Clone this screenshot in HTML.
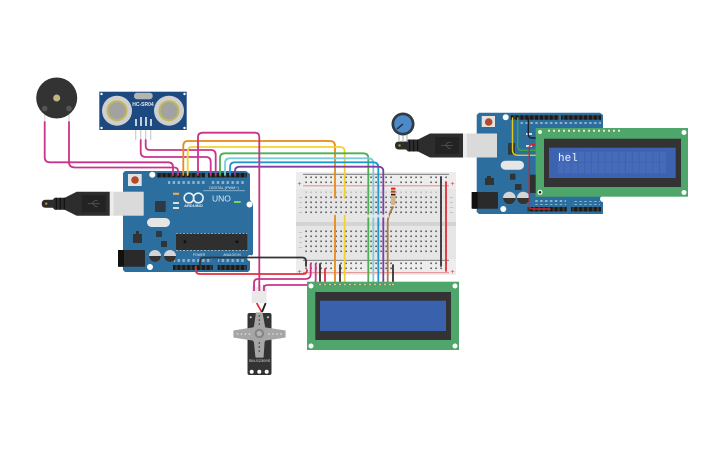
<!DOCTYPE html>
<html><head><meta charset="utf-8"><style>
html,body{margin:0;padding:0;background:#fff}
svg{display:block}
text{font-family:"Liberation Sans",sans-serif}
.w{fill:none;stroke-width:1.8;stroke-linejoin:round;stroke-linecap:round}
.t{fill:none;stroke-width:1.4;stroke-linejoin:round;stroke-linecap:round}
</style></head><body>
<svg width="725" height="453" viewBox="0 0 725 453" xmlns="http://www.w3.org/2000/svg">
<defs>
<pattern id="h" x="305" y="0" width="5" height="5" patternUnits="userSpaceOnUse"><rect x=".3" y="1.500" width="1.600" height="1.600" fill="#5a5a5a"/></pattern>
<pattern id="hl" x="305" y="-1" width="5" height="5" patternUnits="userSpaceOnUse"><rect x=".3" y="1.500" width="1.600" height="1.600" fill="#5a5a5a"/></pattern>
<pattern id="hr" x="305" y="1" width="5" height="5" patternUnits="userSpaceOnUse"><rect x=".3" y="1.500" width="1.600" height="1.600" fill="#5a5a5a"/></pattern>
<pattern id="hf" x="305" y="0" width="5" height="5" patternUnits="userSpaceOnUse"><rect x=".3" y="1.500" width="1.600" height="1.600" fill="#bdbdbd"/></pattern>
<pattern id="ph" x="0" y="0" width="4.900" height="5" patternUnits="userSpaceOnUse"><rect x="1" y="0" width="2.900" height="5" fill="#1b1b1b"/></pattern>
<pattern id="tick" x="0" y="0" width="4.900" height="6" patternUnits="userSpaceOnUse"><rect x="1.200" y="0" width="2.400" height="4" fill="#b9cfe0"/></pattern>
<pattern id="cell" x="558" y="151.700" width="6.800" height="11.200" patternUnits="userSpaceOnUse"><rect width="5.800" height="10.500" fill="#4b71bf"/></pattern>
<g id="usb">
<rect x="68" y="-12" width="34" height="24" fill="#dadada"/>
<rect x="68" y="-12" width="4" height="24" fill="#ececec"/>
<path d="M0 0Q0-4 4-4H11L13-6H23L35-12H68V12H35L23 6H13L11 4H4Q0 4 0 0Z" fill="#2d2d2d"/>
<rect x="14" y="-6" width="1.200" height="12" fill="#111"/><rect x="18" y="-6" width="1.200" height="12" fill="#111"/><rect x="22" y="-6" width="1.200" height="12" fill="#111"/>
<rect x="40" y="-8.500" width="24" height="17" fill="#232323"/>
<circle cx="4.500" cy="0" r="1.200" fill="#b8951f"/>
<path d="M46 0H58M50 0L53-3H56M51 0L54 3H56" stroke="#555" stroke-width=".8" fill="none"/>
</g>
</defs>

<!-- Breadboard -->
<rect x="296" y="172" width="160" height="103" fill="#e6e6e6"/>
<rect x="296" y="172" width="160" height="17" fill="#ededed"/>
<rect x="296" y="259" width="160" height="16" fill="#ededed"/>
<rect x="296" y="222" width="160" height="4" fill="#d4d4d4"/>
<rect x="303" y="173.800" width="146" height="1" fill="#7a7a7a"/>
<rect x="303" y="185.200" width="146" height="1.200" fill="#e59a9a"/>
<rect x="303" y="259.800" width="146" height="1" fill="#7a7a7a"/>
<rect x="303" y="272" width="146" height="1.200" fill="#e59a9a"/>
<rect x="304" y="176" width="144" height="10" fill="url(#h)"/>
<rect x="304" y="190" width="144" height="5" fill="url(#hf)"/>
<rect x="304" y="195" width="144" height="20" fill="url(#h)"/>
<rect x="304" y="229" width="144" height="25" fill="url(#hl)"/>
<rect x="304" y="254" width="144" height="3" fill="#e6e6e6"/>
<rect x="304" y="262" width="144" height="10" fill="url(#hr)"/>
<g fill="#ededed">
<rect x="334" y="176" width="3.500" height="9"/><rect x="364" y="176" width="3.500" height="9"/><rect x="394" y="176" width="3.500" height="9"/><rect x="424" y="176" width="3.500" height="9"/>
<rect x="334" y="262" width="3.500" height="9"/><rect x="364" y="262" width="3.500" height="9"/><rect x="394" y="262" width="3.500" height="9"/><rect x="424" y="262" width="3.500" height="9"/>
</g>
<g fill="#bbb"><rect x="299" y="197" width="3" height=".8"/><rect x="299" y="202" width="3" height=".8"/><rect x="299" y="207" width="3" height=".8"/><rect x="299" y="212" width="3" height=".8"/><rect x="450" y="197" width="3" height=".8"/><rect x="450" y="202" width="3" height=".8"/><rect x="450" y="207" width="3" height=".8"/><rect x="450" y="212" width="3" height=".8"/><rect x="299" y="232" width="3" height=".8"/><rect x="299" y="237" width="3" height=".8"/><rect x="299" y="242" width="3" height=".8"/><rect x="299" y="247" width="3" height=".8"/></g>
<text x="297.500" y="186" font-size="7" fill="#d33">+</text><text x="450.500" y="186" font-size="7" fill="#d33">+</text>
<text x="297.500" y="274" font-size="7" fill="#d33">+</text><text x="450.500" y="274" font-size="7" fill="#d33">+</text>

<!-- Resistor -->
<rect x="391" y="187" width="4.500" height="18" rx="1.500" fill="#d4b483"/>
<rect x="391" y="188" width="4.500" height="1.500" fill="#d22"/><rect x="391" y="191" width="4.500" height="1.500" fill="#d22"/><rect x="391" y="194" width="4.500" height="1.300" fill="#222"/>

<!-- Buzzer -->
<path d="M44.700 114V123M69 114V123" stroke="#ddd" stroke-width="1.600"/>
<circle cx="56.700" cy="98" r="20.500" fill="#333"/>
<circle cx="56.700" cy="98" r="3.500" fill="#c4b684"/>
<circle cx="44.700" cy="108.500" r="2.800" fill="#555"/><circle cx="69" cy="108.500" r="2.800" fill="#555"/>

<!-- Ultrasonic -->
<path d="M135.700 130V140M140.700 130V140M145.700 130V140M150.700 130V140" stroke="#ccc" stroke-width="1.200"/>
<rect x="99.300" y="91.700" width="87.400" height="38.300" fill="#1c4a80"/>
<rect x="134" y="92.700" width="18.700" height="6.600" rx="3" fill="#b4b4b4"/>
<circle cx="117" cy="110.700" r="15" fill="#cfcfcf"/><circle cx="117" cy="110.700" r="10.500" fill="#bdb95a"/><circle cx="117" cy="110.700" r="8.500" fill="#a2a2a2"/>
<circle cx="169" cy="110.700" r="15" fill="#cfcfcf"/><circle cx="169" cy="110.700" r="10.500" fill="#bdb95a"/><circle cx="169" cy="110.700" r="8.500" fill="#a2a2a2"/>
<text x="143" y="106" font-size="5" font-weight="bold" fill="#dfe6ef" text-anchor="middle">HC-SR04</text>
<path d="M135 119h2v7h-2zM140 117h2v9h-2zM145 117h2v9h-2zM150 119h2v7h-2z" fill="#c4cfdc"/>
<circle cx="101.500" cy="94" r="1.200" fill="#fff"/><circle cx="184.500" cy="94" r="1.200" fill="#fff"/><circle cx="101.500" cy="128" r="1.200" fill="#fff"/><circle cx="184.500" cy="128" r="1.200" fill="#fff"/>

<!-- Left Arduino -->
<path d="M125 171H246L250 174V200L253 204V254L250 258V270L248 272H125L123 270V173Z" fill="#2c6f9f"/>
<rect x="128" y="174" width="13.700" height="12" fill="#e2e2e2"/><circle cx="135" cy="180" r="3.800" fill="#b5492b"/>
<rect x="156.700" y="173" width="48.300" height="4.500" fill="#3a3a3a"/><rect x="156.700" y="173" width="48.300" height="4.500" fill="url(#ph)"/>
<rect x="208" y="173" width="38.700" height="4.500" fill="#3a3a3a"/><rect x="208" y="173" width="38.700" height="4.500" fill="url(#ph)"/>
<rect x="173" y="265" width="39.700" height="5" fill="#3a3a3a"/><rect x="173" y="265" width="39.700" height="5" fill="url(#ph)"/>
<rect x="217.700" y="265" width="29" height="5" fill="#3a3a3a"/><rect x="217.700" y="265" width="29" height="5" fill="url(#ph)"/>
<rect x="168" y="181" width="37" height="4" fill="url(#tick)" opacity=".7"/><rect x="211" y="181" width="35" height="4" fill="url(#tick)" opacity=".7"/>
<rect x="174" y="259" width="38" height="4" fill="url(#tick)" opacity=".7"/><rect x="218" y="259" width="28" height="4" fill="url(#tick)" opacity=".7"/>
<rect x="203" y="190.400" width="42" height=".7" fill="#a9c6dc"/>
<circle cx="152.300" cy="174.700" r="3" fill="#fff"/><circle cx="249.500" cy="204.500" r="3" fill="#fff"/><circle cx="250" cy="258" r="3" fill="#fff"/><circle cx="150" cy="267" r="3" fill="#fff"/>
<rect x="155" y="201" width="10.700" height="11" fill="#2d3a45"/>
<rect x="156" y="231" width="6" height="6" fill="#2d3a45"/>
<rect x="133" y="234" width="9" height="9" fill="#333"/><rect x="136" y="231" width="3" height="3" fill="#333"/>
<rect x="161" y="241" width="6" height="6" fill="#333"/>
<rect x="147" y="218" width="23" height="9" rx="4.500" fill="#e6e6e6"/>
<rect x="176" y="233.300" width="71.300" height="17" fill="#2f2f2f"/>
<path d="M176 233.300h71.300M176 250.300h71.300" stroke="#ddd" stroke-width=".7" stroke-dasharray="2 1.500"/>
<circle cx="185" cy="241.800" r="1.500" fill="#111"/><circle cx="237" cy="241.800" r="1.500" fill="#111"/>
<rect x="118" y="250" width="27" height="16.700" rx="1" fill="#2a2a2a"/><rect x="118" y="250" width="6" height="16.700" fill="#111"/>
<circle cx="155" cy="256" r="6" fill="#d4d4d4"/><path d="M149 256A6 6 0 0 0 161 256Z" fill="#333"/>
<circle cx="170" cy="256" r="6" fill="#d4d4d4"/><path d="M164 256A6 6 0 0 0 176 256Z" fill="#333"/>
<circle cx="189" cy="198" r="4.800" fill="none" stroke="#e8f0f6" stroke-width="1.600"/><circle cx="198.300" cy="198" r="4.800" fill="none" stroke="#e8f0f6" stroke-width="1.600"/>
<text x="193.500" y="207" font-size="4" font-weight="bold" fill="#e4edf5" text-anchor="middle">ARDUINO</text>
<text x="212" y="201.500" font-size="8.500" fill="#dfe9f2">UNO</text>
<text x="224" y="189" font-size="3.800" fill="#dfe9f2" text-anchor="middle">DIGITAL (PWM~)</text>
<text x="199" y="256" font-size="3.200" fill="#dfe9f2" text-anchor="middle">POWER</text>
<text x="232" y="256" font-size="3.200" fill="#dfe9f2" text-anchor="middle">ANALOG IN</text>
<rect x="234" y="201" width="6.700" height="2" fill="#7fd06a"/>
<rect x="173" y="192.700" width="6" height="2.200" fill="#e0aa60"/>
<rect x="173" y="202" width="6" height="2" fill="#ddd"/><rect x="173" y="207" width="6" height="2" fill="#ddd"/>

<use href="#usb" x="41.700" y="203.700"/>

<!-- Left wires -->
<g class="w">
<path d="M44.700 122V157Q44.700 162.300 50 162.300H168Q173 162.300 173 167V175" stroke="#c9348a"/>
<path d="M69 122V162Q69 167.500 75 167.500H174Q178 167.500 178 171V175" stroke="#c9348a"/>
<path d="M140.700 140V152Q140.700 157 146 157H206Q210.700 157 210.700 162V175" stroke="#c9348a"/>
<path d="M145.700 140V146Q145.700 150 150 150H211Q215.700 150 215.700 155V175" stroke="#c9348a"/>
<path d="M183.300 175V146Q183.300 141 188 141H330Q335 141 335 146V197.700M335 215.700V285" stroke="#e88a1a"/>
<path d="M187.700 175V152Q187.700 147 192 147H340Q344.700 147 344.700 152V197.700M344.700 215.700V285" stroke="#f2d32e"/>
<path d="M220 175V158Q220 153.300 225 153.300H363Q368.300 153.300 368.300 158V285" stroke="#4cb050"/>
<path d="M225 175V163Q225 158.300 230 158.300H368Q373.300 158.300 373.300 163V285" stroke="#7fcbd9"/>
<path d="M230 175V167Q230 162.300 235 162.300H373Q378.300 162.300 378.300 167V285" stroke="#1f9ad0"/>
<path d="M235 175V171Q235 166.700 240 166.700H378Q383.300 166.700 383.300 171V285" stroke="#7c3fa0"/>
<path d="M198 175V137Q198 132.700 203 132.700H255Q259.300 132.700 259.300 137V287" stroke="#c9348a"/>
<path d="M200 266V261Q200 257.500 204 257.500H302Q306 257.500 306 261V266" stroke="#333"/>
<path d="M195.700 267V270Q195.700 274 200 274H303Q307 274 307 270" stroke="#e0303a"/>
<path d="M310.700 264V274Q310.700 279 305 279H258Q254 279 254 283V288" stroke="#c9348a"/>
<path d="M315.700 264V280Q315.700 285 310 285H268Q264 285 264 288" stroke="#c9348a"/>
<path d="M320 264V285" stroke="#333"/>
<path d="M325 269V285" stroke="#e0303a"/>
<path d="M340 265V285" stroke="#333"/>
<path d="M387.700 285V222Q387.700 216 393 207" stroke="#a87a4a"/>
<path d="M393 265V285" stroke="#333"/>
<path d="M441 177V266" stroke="#333"/>
<path d="M446 182V271" stroke="#e0303a"/>
</g>
<rect x="365" y="214.500" width="24" height="3" fill="#e8e8e8" opacity=".85"/>

<!-- Bottom LCD -->
<rect x="307" y="281.700" width="152" height="68.300" fill="#4fa66b"/>
<rect x="315.300" y="292" width="135.700" height="48" fill="#333"/>
<rect x="320" y="300.700" width="126" height="30.300" fill="#3a62ac"/>
<circle cx="311" cy="286" r="2.500" fill="#fff"/><circle cx="455" cy="286" r="2.500" fill="#fff"/><circle cx="311" cy="346" r="2.500" fill="#fff"/><circle cx="455" cy="346" r="2.500" fill="#fff"/>
<g fill="#e6dca0" stroke="#555" stroke-width=".4">
<circle cx="320" cy="284.500" r="1.200"/><circle cx="325" cy="284.500" r="1.200"/><circle cx="330" cy="284.500" r="1.200"/><circle cx="335" cy="284.500" r="1.200"/><circle cx="340" cy="284.500" r="1.200"/><circle cx="345" cy="284.500" r="1.200"/><circle cx="350" cy="284.500" r="1.200"/><circle cx="355" cy="284.500" r="1.200"/><circle cx="360" cy="284.500" r="1.200"/><circle cx="365" cy="284.500" r="1.200"/><circle cx="370" cy="284.500" r="1.200"/><circle cx="375" cy="284.500" r="1.200"/><circle cx="380" cy="284.500" r="1.200"/><circle cx="385" cy="284.500" r="1.200"/><circle cx="390" cy="284.500" r="1.200"/><circle cx="393" cy="284.500" r="1.200"/>
</g>

<!-- Servo -->
<rect x="247.500" y="313" width="24" height="62" rx="2" fill="#333"/>
<path d="M256.700 303L261.700 312" stroke="#e0303a" stroke-width="1.800"/>
<path d="M265.700 303L262 312" stroke="#222" stroke-width="1.800"/>
<rect x="251.700" y="287" width="15" height="16" fill="#e9e9e9"/>
<path d="M254 285V291M259.300 285V291M264 285V291" stroke="#c9348a" stroke-width="1.800"/>
<path d="M256.500 313H262L264.500 327L265 328L285 331V337L265 340L264 342L263 357H256L254.500 342L253 340L234 337V331L253 328L254.500 327Z" fill="#a6a6a6" stroke="#a6a6a6" stroke-width="1.200" stroke-linejoin="round"/>
<circle cx="259.300" cy="333.500" r="4.800" fill="#868686"/><circle cx="259.300" cy="333.500" r="2.600" fill="#b4b4b4"/>
<g fill="#e4e4e4"><circle cx="237.500" cy="334" r=".8"/><circle cx="241.500" cy="334" r=".8"/><circle cx="245.500" cy="334" r=".8"/><circle cx="249.500" cy="334" r=".8"/><circle cx="269" cy="334" r=".8"/><circle cx="273" cy="334" r=".8"/><circle cx="277" cy="334" r=".8"/><circle cx="281" cy="334" r=".8"/></g>
<g fill="#3a3a3a"><circle cx="259.300" cy="316" r=".8"/><circle cx="259.300" cy="320" r=".8"/><circle cx="259.300" cy="324" r=".8"/><circle cx="259.300" cy="343" r=".8"/><circle cx="259.300" cy="347" r=".8"/><circle cx="259.300" cy="351" r=".8"/></g>
<circle cx="250.700" cy="317.300" r="1" fill="#ddd"/><circle cx="268" cy="317.300" r="1" fill="#ddd"/>
<text x="259.500" y="362" font-size="4" fill="#ddd" text-anchor="middle">SM-S2309S</text>
<circle cx="251.700" cy="371.700" r="2" fill="#fff"/><circle cx="259.300" cy="371.700" r="2" fill="#fff"/><circle cx="266.700" cy="371.700" r="2" fill="#fff"/>

<!-- Right Arduino -->
<path d="M479 112.700H600L603 115V214H479L476.700 212V115Z" fill="#2c6f9f"/>
<rect x="481.700" y="116" width="13.300" height="11" fill="#e2e2e2"/><circle cx="488.700" cy="122" r="3.800" fill="#b5492b"/>
<rect x="510.700" y="115.300" width="48" height="4.400" fill="#3a3a3a"/><rect x="510.700" y="115.300" width="48" height="4.400" fill="url(#ph)"/>
<rect x="561" y="115.300" width="40" height="4.400" fill="#3a3a3a"/><rect x="561" y="115.300" width="40" height="4.400" fill="url(#ph)"/>
<rect x="527.700" y="207" width="39" height="4.500" fill="#3a3a3a"/><rect x="527.700" y="207" width="39" height="4.500" fill="url(#ph)"/>
<rect x="571" y="207" width="30" height="4.500" fill="#3a3a3a"/><rect x="571" y="207" width="30" height="4.500" fill="url(#ph)"/>
<rect x="520" y="122" width="81" height="4" fill="url(#tick)" opacity=".7"/>
<rect x="533" y="200" width="33" height="5" fill="url(#tick)" opacity=".7"/><rect x="572" y="201" width="28" height="4" fill="url(#tick)" opacity=".7"/>
<circle cx="505.700" cy="117.300" r="3" fill="#fff"/><circle cx="503.300" cy="209" r="3" fill="#fff"/><circle cx="603" cy="199" r="3" fill="#fff"/>
<rect x="508" y="143" width="7" height="11.700" fill="#2d3a45"/>
<rect x="500.700" y="160.700" width="23.300" height="9" rx="4.500" fill="#e6e6e6"/>
<rect x="485" y="178" width="9" height="7" fill="#333"/><rect x="487" y="176" width="4" height="2" fill="#333"/>
<rect x="510" y="173.700" width="5.500" height="6" fill="#333"/><rect x="515" y="184" width="6.500" height="6" fill="#333"/>
<rect x="530" y="174.700" width="6" height="18.300" fill="#2f2f2f"/>
<rect x="471.700" y="192" width="26.300" height="16.700" rx="1" fill="#2a2a2a"/><rect x="471.700" y="192" width="6" height="16.700" fill="#111"/>
<circle cx="509.300" cy="198" r="6.300" fill="#d4d4d4"/><path d="M503 198A6.300 6.300 0 0 0 515.600 198Z" fill="#333"/>
<circle cx="523.300" cy="198" r="6.300" fill="#d4d4d4"/><path d="M517 198A6.300 6.300 0 0 0 529.600 198Z" fill="#333"/>
<rect x="526" y="133" width="6" height="2" fill="#ddd"/><rect x="526" y="145" width="6" height="2" fill="#ddd"/>

<use href="#usb" x="395" y="145.500"/>

<!-- Pot -->
<path d="M399 135V142M403 135V142M407 135V142" stroke="#bbb" stroke-width="1.200"/>
<circle cx="403" cy="124" r="11.500" fill="#2f3b46"/><circle cx="403" cy="124" r="8.800" fill="#4d8ac8"/>
<path d="M403 124L397 129" stroke="#1d3350" stroke-width="1.500"/>

<!-- Right wires -->
<g class="t">
<path d="M512.500 118V150Q512.500 155.300 518 155.300H537" stroke="#e2c81f"/>
<path d="M517.700 118V146Q517.700 150.300 522 150.300H537" stroke="#3fa34a"/>
<path d="M528.300 118V134Q528.300 138 532 138H537" stroke="#222"/>
<path d="M537 144.700H532Q529.300 144.700 529.300 148V205Q529.300 209 533 209H550" stroke="#d8202a"/>
</g>

<!-- Right LCD -->
<rect x="535.700" y="128" width="152.300" height="68.700" fill="#4fa66b"/>
<rect x="544" y="138.700" width="137" height="48.300" fill="#333"/>
<rect x="549" y="147.700" width="126.700" height="30.300" fill="#3c63b0"/>
<rect x="558" y="151.700" width="109" height="22.300" fill="url(#cell)" opacity=".6"/>
<text x="558" y="161" font-size="11" fill="#e8eefc" style="font-family:'Liberation Mono',monospace">hel</text>
<circle cx="684" cy="132.500" r="2.500" fill="#fff"/><circle cx="684" cy="192.500" r="2.500" fill="#fff"/><circle cx="540" cy="192.300" r="2.500" fill="#fff"/><circle cx="540" cy="192.300" r="1.300" fill="#222"/>
<circle cx="540" cy="132" r="2" fill="#e8f0e8"/>
<path d="M548 130.700H623" stroke="#e9e9d0" stroke-width="2" stroke-dasharray="2 3"/>
</svg>
</body></html>
